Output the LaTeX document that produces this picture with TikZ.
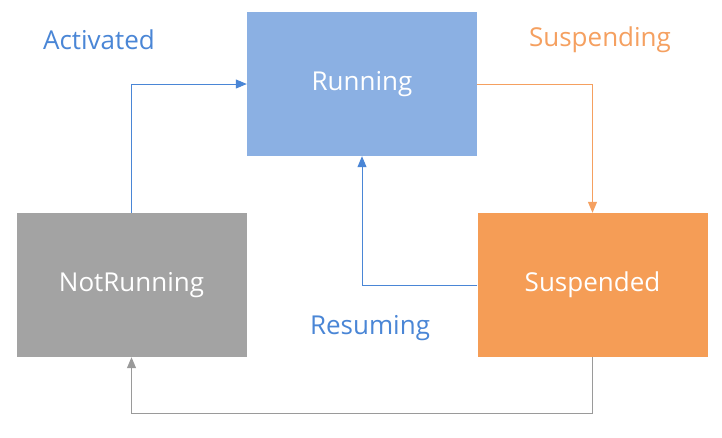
\documentclass[tikz,border=0pt]{standalone}
\usepackage{fontspec}
\setmainfont{Open Sans}
\usetikzlibrary{arrows.meta}
\definecolor{cblue}{HTML}{8BB0E3}
\definecolor{lblue}{HTML}{4A86D6}
\definecolor{cgray}{HTML}{A3A3A3}
\definecolor{corange}{HTML}{F59D56}
\definecolor{lorange}{HTML}{F5A060}
\definecolor{lgray}{HTML}{9A9A9A}
\begin{document}
\begin{tikzpicture}[x=1pt,y=-1pt,
  box/.style={draw=none,minimum width=230pt,minimum height=144pt,inner sep=0pt,text=white,font=\fontsize{26}{30}\selectfont},
  lab/.style={font=\fontsize{26}{30}\selectfont},
  conn/.style={line width=1pt,-{Triangle[length=11pt,width=9pt]}}]
\useasboundingbox[fill=white] (0,0) rectangle (722,437);
\node[box,fill=cblue] (run) at (362,84) {Running};
\node[box,fill=cgray] (not) at (131.5,285) {NotRunning};
\node[box,fill=corange] (sus) at (592.5,285) {Suspended};
\node[lab,text=lblue] (act) at (99,40) {Activated};
\node[lab,text=lorange] (spg) at (600,40) {Suspending};
\node[lab,text=lblue] (res) at (370,328) {Resuming};
\draw[conn,lblue] (not.north) |- (run.west);
\draw[conn,lorange] (run.east) -| (sus.north);
\draw[conn,lblue] (sus.west) -| (run.south);
\draw[conn,lgray] (sus.south) -- ++(0,56) -| (not.south);
\end{tikzpicture}
\end{document}
